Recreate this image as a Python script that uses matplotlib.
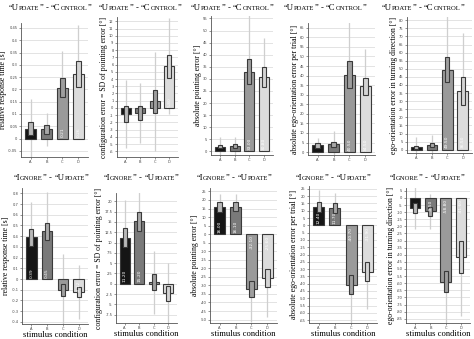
import numpy as np
import matplotlib
matplotlib.use('Agg')
import matplotlib.pyplot as plt

conditions = ['A', 'B', 'C', 'D']

# "Update" - "Control"
rt_uc_mean = [0.040, 0.037, 0.207, 0.263]
rt_uc_se = [0.027, 0.018, 0.038, 0.054]
rt_uc_sd = [0.12, 0.067, 0.15, 0.20]

cfg_uc_mean = [-0.8, -0.7, 0.9, 5.8]
cfg_uc_se = [1.1, 1.0, 1.6, 1.6]
cfg_uc_sd = [4.7, 4.1, 6.8, 6.6]

ape_uc_mean = [2.0, 2.2, 33.0, 30.8]
ape_uc_se = [0.8, 0.9, 5.2, 4.2]
ape_uc_sd = [4.0, 3.6, 23.5, 16.2]

ego_uc_mean = [3.5, 4.0, 40.5, 34.5]
ego_uc_se = [1.1, 1.3, 6.9, 4.4]
ego_uc_sd = [4.0, 6.8, 28.0, 19.3]

turn_uc_mean = [1.5, 2.8, 49.5, 36.5]
turn_uc_se = [1.1, 1.4, 7.5, 8.7]
turn_uc_sd = [6.5, 6.2, 35.0, 35.5]

# "Ignore" - "Update"
rt_iu_mean = [0.39, 0.445, -0.10, -0.12]
rt_iu_se = [0.08, 0.08, 0.055, 0.05]
rt_iu_sd = [0.33, 0.37, 0.33, 0.25]

cfg_iu_mean = [11.2, 15.2, 0.4, -2.3]
cfg_iu_se = [2.3, 2.3, 1.9, 1.8]
cfg_iu_sd = [9.0, 8.0, 7.6, 7.3]

ape_iu_mean = [16.0, 16.1, -32.1, -25.6]
ape_iu_se = [2.8, 2.8, 4.8, 5.2]
ape_iu_sd = [7.5, 7.5, 19.5, 23.0]

ego_iu_mean = [12.4, 11.7, -40.7, -31.9]
ego_iu_se = [3.3, 3.3, 6.6, 6.6]
ego_iu_sd = [12.0, 10.6, 30.0, 25.4]

turn_iu_mean = [-7.2, -9.5, -58.8, -41.6]
turn_iu_se = [3.5, 2.9, 7.6, 11.0]
turn_iu_sd = [14.8, 12.0, 35.0, 41.2]

ylabels = ['relative response time [s]',
           'configuration error = SD of pointing error [°]',
           'absolute pointing error [°]',
           'absolute ego-orientation error per trial [°]',
           'ego-orientation error in turning direction [°]']

bar_colors = ['#151515', '#7a7a7a', '#9a9a9a', '#dcdcdc']
box_colors = ['#b8b8b8', '#a8a8a8', '#9e9e9e', '#d4d4d4']
edge = '#3a3a3a'
serif = ['Liberation Serif', 'DejaVu Serif']

W, H = 474, 339
fig = plt.figure(figsize=(W / 100, H / 100), dpi=100)


def add_ax(l, t, r, b):
    return fig.add_axes([l / W, 1 - b / H, (r - l) / W, (b - t) / H])


panels = [
    # row 1
    (add_ax(21, 23, 88, 157), rt_uc_mean, rt_uc_se, rt_uc_sd, (-0.075, 0.47), np.arange(-0.05, 0.46, 0.05), '%g'),
    (add_ax(117, 17, 178, 157), cfg_uc_mean, cfg_uc_se, cfg_uc_sd, (-6.8, 12.6), np.arange(-6, 13, 1), '%g'),
    (add_ax(211, 16, 273, 155), ape_uc_mean, ape_uc_se, ape_uc_sd, (-1.5, 56), np.arange(0, 56, 5), '%g'),
    (add_ax(308, 23, 375, 155), ego_uc_mean, ego_uc_se, ego_uc_sd, (-1.5, 67.5), np.arange(0, 66, 5), '%g'),
    (add_ax(407, 17, 472, 153), turn_uc_mean, turn_uc_se, turn_uc_sd, (-2, 82), np.arange(0, 81, 5), '%g'),
    # row 2
    (add_ax(22, 188, 88, 324), rt_iu_mean, rt_iu_se, rt_iu_sd, (-0.42, 0.85), np.arange(-0.4, 0.81, 0.1), '%.1f'),
    (add_ax(116, 193, 177, 323), cfg_iu_mean, cfg_iu_se, cfg_iu_sd, (-9.5, 22), np.arange(-7.5, 20.1, 2.5), '%g'),
    (add_ax(210, 188, 277, 323), ape_iu_mean, ape_iu_se, ape_iu_sd, (-52, 27), np.arange(-50, 26, 5), '%g'),
    (add_ax(309, 186, 377, 323), ego_iu_mean, ego_iu_se, ego_iu_sd, (-67, 27), np.arange(-65, 26, 5), '%g'),
    (add_ax(406, 188, 470, 323), turn_iu_mean, turn_iu_se, turn_iu_sd, (-88, 7), np.arange(-85, 6, 5), '%g'),
]
title_centers = [50, 140, 232, 325, 423, 51, 141, 234, 333, 427]

x = np.arange(len(conditions))
for k, (ax, mean, se, sd, ylim, yticks, fmt) in enumerate(panels):
    mean = np.array(mean)
    se = np.array(se)
    sd = np.array(sd)
    ax.set_axisbelow(True)
    ax.grid(axis='y', color='#d8d8d8', lw=0.5)
    # SD whiskers
    ax.vlines(x, mean - sd, mean + sd, color='#cfcfcf', lw=0.9, zorder=1)
    # mean bars
    ax.bar(x, mean, width=0.68, color=bar_colors, edgecolor=edge, lw=0.8, zorder=2)
    # SE boxes
    ax.bar(x, 2 * se, bottom=mean - se, width=0.26, color=box_colors,
           edgecolor=edge, lw=0.8, zorder=3)
    span = ylim[1] - ylim[0]
    for i, m in enumerate(mean):
        if abs(m) / span > 0.08:
            off = 0.01 * span
            ax.text(i, off if m > 0 else -off, '%.2f' % m, rotation=90, color='white',
                    fontsize=3.2, ha='center', va='bottom' if m > 0 else 'top', zorder=4)
    ax.set_xlim(-0.6, 3.6)
    ax.set_ylim(*ylim)
    ax.set_yticks(yticks)
    ax.set_yticklabels([fmt % v if abs(v) > 1e-9 else '0' for v in yticks])
    ax.set_xticks(x)
    ax.set_xticklabels(conditions)
    ax.tick_params(labelsize=2.6, length=1.5, width=0.4, pad=1, colors='#444444')
    for s in ['top', 'right']:
        ax.spines[s].set_visible(False)
    for s in ['left', 'bottom']:
        ax.spines[s].set_color('#555555')
        ax.spines[s].set_linewidth(0.6)
    ax.set_ylabel(ylabels[k % 5], family=serif, fontsize=5.6, labelpad=0.8)
    if k >= 5:
        ax.set_xlabel('stimulus condition', family=serif, fontsize=6.2, labelpad=0)


def small_caps_title(words, xc, ybase, big=6.2, small=4.8):
    renderer = fig.canvas.get_renderer()
    pieces = []
    for wi, word in enumerate(words):
        runs = []
        for ch in word:
            kind = 'small' if ch.islower() else 'big'
            if runs and runs[-1][1] == kind:
                runs[-1][0] += ch.upper()
            else:
                runs.append([ch.upper(), kind])
        for j, (s, kind) in enumerate(runs):
            t = fig.text(0, 1 - ybase / H, s, family=serif,
                         fontsize=big if kind == 'big' else small, va='baseline')
            pieces.append((t, 2.5 if (j == 0 and wi > 0) else 0.0))
    widths = [t.get_window_extent(renderer).width for t, _ in pieces]
    total = sum(widths) + sum(g for _, g in pieces)
    xp = xc - total / 2
    for (t, g), w in zip(pieces, widths):
        xp += g
        t.set_x(xp / W)
        xp += w


for k in range(len(panels)):
    if k < 5:
        small_caps_title(['\u201cUpdate\u201d', '-', '\u201cControl\u201d'], title_centers[k], 10)
    else:
        small_caps_title(['\u201cIgnore\u201d', '-', '\u201cUpdate\u201d'], title_centers[k], 180)

fig.savefig('out.png', dpi=100)
